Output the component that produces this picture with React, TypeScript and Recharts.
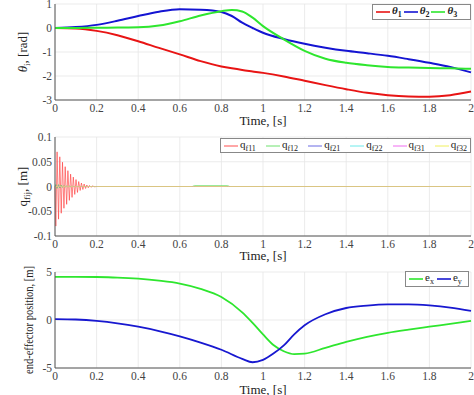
import { LineChart, Line, XAxis, YAxis, CartesianGrid, Legend, Label } from "recharts";

// panel 1: joint angles
const time = [0, 0.1, 0.2, 0.3, 0.4, 0.5, 0.6, 0.7, 0.8, 0.85, 0.9, 0.95, 1.0, 1.1, 1.2, 1.3, 1.4, 1.5, 1.6, 1.7, 1.8, 1.9, 2.0];
const theta1 = [0, -0.02, -0.12, -0.3, -0.55, -0.83, -1.1, -1.38, -1.6, -1.68, -1.75, -1.81, -1.87, -2.02, -2.2, -2.38, -2.55, -2.7, -2.8, -2.85, -2.86, -2.8, -2.65];
const theta2 = [0, 0.04, 0.13, 0.3, 0.5, 0.68, 0.78, 0.76, 0.67, 0.5, 0.22, 0.0, -0.2, -0.46, -0.66, -0.82, -0.95, -1.05, -1.16, -1.3, -1.45, -1.62, -1.85];
const theta3 = [0, 0.0, 0.01, 0.02, 0.03, 0.1, 0.28, 0.52, 0.7, 0.75, 0.69, 0.43, 0.08, -0.47, -0.95, -1.28, -1.45, -1.55, -1.62, -1.65, -1.67, -1.68, -1.7];

// panel 2: flexible coordinates
const qTime = [0, 0.004, 0.01, 0.017, 0.023, 0.03, 0.036, 0.043, 0.049, 0.056, 0.062, 0.069, 0.075, 0.082, 0.088, 0.095, 0.101, 0.108, 0.114, 0.121, 0.127, 0.134, 0.14, 0.147, 0.153, 0.16, 0.166, 0.173, 0.18, 0.19, 0.2, 0.4, 0.66, 0.67, 0.83, 0.84, 1.0, 1.5, 2.0];
const qF11 = [0, -0.08, 0.07, -0.066, 0.06, -0.054, 0.049, -0.044, 0.04, -0.036, 0.032, -0.028, 0.025, -0.022, 0.019, -0.016, 0.014, -0.012, 0.01, -0.008, 0.007, -0.006, 0.005, -0.004, 0.003, -0.0025, 0.002, -0.0015, 0.001, -0.0005, 0, 0, 0, 0, 0, 0, 0, 0, 0];
const qF12 = [0, 0.004, -0.004, 0.004, -0.003, 0.003, -0.002, 0.002, -0.0015, 0.0015, -0.001, 0.001, -0.0005, 0.0005, 0, 0, 0, 0, 0, 0, 0, 0, 0, 0, 0, 0, 0, 0, 0, 0, 0, 0, 0, 0.002, 0.002, 0, 0, 0, 0];
const qF21 = [0, 0.001, -0.001, 0.001, -0.001, 0, 0, 0, 0, 0, 0, 0, 0, 0, 0, 0, 0, 0, 0, 0, 0, 0, 0, 0, 0, 0, 0, 0, 0, 0, 0, 0, 0, 0, 0, 0, 0, 0, 0];
const qF22 = qTime.map(() => 0);
const qF31 = qTime.map(() => 0);
const qF32 = qTime.map(() => 0);

// panel 3: end-effector position
const eTime = [0, 0.1, 0.2, 0.3, 0.4, 0.5, 0.6, 0.7, 0.8, 0.9, 0.95, 1.0, 1.05, 1.1, 1.15, 1.2, 1.3, 1.4, 1.5, 1.6, 1.7, 1.8, 1.9, 2.0];
const ex = [4.5, 4.5, 4.48, 4.42, 4.3, 4.1, 3.8, 3.25, 2.4, 0.8, -0.3, -1.5, -2.6, -3.25, -3.55, -3.5, -2.9, -2.28, -1.75, -1.33, -1.0, -0.7, -0.4, -0.1];
const ey = [0.1, 0.05, -0.1, -0.35, -0.7, -1.15, -1.7, -2.35, -3.1, -4.05, -4.4, -4.15, -3.5, -2.65, -1.5, -0.55, 0.6, 1.25, 1.5, 1.62, 1.63, 1.52, 1.3, 0.95];

const timeTicks = [0, 0.2, 0.4, 0.6, 0.8, 1, 1.2, 1.4, 1.6, 1.8, 2];
const thetaTicks = [-3, -2, -1, 0, 1];
const qTicks = [-0.1, -0.05, 0, 0.05, 0.1];
const eTicks = [-5, 0, 5];

const thetaData = time.map((t, i) => ({ t, th1: theta1[i], th2: theta2[i], th3: theta3[i] }));
const qData = qTime.map((t, i) => ({ t, q11: qF11[i], q12: qF12[i], q21: qF21[i], q22: qF22[i], q31: qF31[i], q32: qF32[i] }));
const eData = eTime.map((t, i) => ({ t, ex: ex[i], ey: ey[i] }));

const FONT = "Liberation Serif, Times New Roman, serif";
const AXIS = "#555";
const timeLabelStyle = { fontSize: 13, fontFamily: FONT, fill: "#222", fontWeight: 400 };

const qSeries = [
  { key: "q11", sub: "f11", color: "#ff3b3b" },
  { key: "q12", sub: "f12", color: "#5ede5e" },
  { key: "q21", sub: "f21", color: "#5a5ae0" },
  { key: "q22", sub: "f22", color: "#5ee8e8" },
  { key: "q31", sub: "f31", color: "#ee5cee" },
  { key: "q32", sub: "f32", color: "#eeee4a" },
];

// serif tick labels drawn by hand so the font sticks
const xTick = (props: any) => (
  <text x={props.x} y={props.y} dy="0.71em" textAnchor="middle" fontFamily={FONT} fontSize={11.5} fill="#444">
    {String(props.payload.value)}
  </text>
);
const yTick = (props: any) => (
  <text x={props.x} y={props.y} dy="0.35em" textAnchor="end" fontFamily={FONT} fontSize={11.5} fill="#444">
    {String(props.payload.value)}
  </text>
);

function Swatch({ color, width = 1.6 }: { color: string; width?: number }) {
  return (
    <svg width={14} height={6} style={{ marginRight: 2 }}>
      <line x1={0} y1={3} x2={14} y2={3} stroke={color} strokeWidth={width} />
    </svg>
  );
}

const boxStyle = {
  border: "1px solid #888",
  background: "#fff",
  display: "flex",
  alignItems: "center",
  fontFamily: FONT,
  color: "#222",
  boxSizing: "border-box" as const,
  paddingLeft: 3,
};

function ThetaLegend() {
  const items = [
    { n: "1", c: "#e81414" },
    { n: "2", c: "#1414d2" },
    { n: "3", c: "#2ee62e" },
  ];
  return (
    <div style={{ ...boxStyle, height: 16, fontSize: 11 }}>
      {items.map((it) => (
        <span key={it.n} style={{ display: "flex", alignItems: "center", marginRight: 2 }}>
          <Swatch color={it.c} />
          <span style={{ fontWeight: "bold", fontStyle: "italic" }}>
            θ<sub style={{ fontSize: 8, fontStyle: "normal" }}>{it.n}</sub>
          </span>
        </span>
      ))}
    </div>
  );
}

function QLegend() {
  return (
    <div style={{ ...boxStyle, height: 15, fontSize: 11, justifyContent: "space-between", paddingRight: 3 }}>
      {qSeries.map((s) => (
        <span key={s.key} style={{ display: "flex", alignItems: "center" }}>
          <Swatch color={s.color} width={0.9} />
          <span>
            q<sub style={{ fontSize: 8 }}>{s.sub}</sub>
          </span>
        </span>
      ))}
    </div>
  );
}

function ELegend() {
  const items = [
    { n: "x", c: "#2ee62e" },
    { n: "y", c: "#1818d0" },
  ];
  return (
    <div style={{ ...boxStyle, height: 16, fontSize: 11 }}>
      {items.map((it) => (
        <span key={it.n} style={{ display: "flex", alignItems: "center", marginRight: 3 }}>
          <Swatch color={it.c} />
          <span>
            e<sub style={{ fontSize: 8 }}>{it.n}</sub>
          </span>
        </span>
      ))}
    </div>
  );
}

function yTitle(kind: "theta" | "q" | "e") {
  return (props: any) => {
    const vb = props.viewBox || { x: 0, y: 0, width: 55, height: 100 };
    const cx = kind === "e" ? 30 : 24;
    const cy = vb.y + vb.height / 2;
    let body;
    if (kind === "theta") {
      body = (
        <>
          <tspan fontStyle="italic">θ</tspan>
          <tspan fontSize={9} dy={4}>i</tspan>
          <tspan dy={-4}>, [rad]</tspan>
        </>
      );
    } else if (kind === "q") {
      body = (
        <>
          <tspan>q</tspan>
          <tspan fontSize={9} dy={4}>fij</tspan>
          <tspan dy={-4}>, [m]</tspan>
        </>
      );
    } else {
      body = <tspan>end-effector position, [m]</tspan>;
    }
    return (
      <text
        x={cx}
        y={cy}
        transform={`rotate(-90, ${cx}, ${cy})`}
        textAnchor="middle"
        dominantBaseline="middle"
        fontFamily={FONT}
        fontSize={kind === "e" ? 12 : 13}
        fill="#222"
        {...(kind === "e" ? { textLength: 108, lengthAdjust: "spacingAndGlyphs" } : {})}
      >
        {body}
      </text>
    );
  };
}

export default function App() {
  return (
    <div style={{ position: "absolute", left: 0, top: 0, width: 474, height: 395, background: "#fff", fontFamily: FONT }}>
      <style>{`.recharts-text, .recharts-label, svg text { font-family: "Liberation Serif", "Times New Roman", serif !important; font-weight: 400; } .recharts-surface { overflow: visible; }`}</style>
      <div style={{ position: "absolute", left: 0, top: 0 }}>
        <LineChart width={474} height={126} data={thetaData} margin={{ top: 4, right: 3, left: 0, bottom: 0 }}>
          <CartesianGrid stroke="#e6e6e6" strokeWidth={0.8} />
          <XAxis dataKey="t" type="number" domain={[0, 2]} ticks={timeTicks} tick={xTick} tickSize={0} tickMargin={4} height={26} stroke={AXIS} interval={0}>
            <Label value="Time, [s]" position="insideBottom" offset={1} style={timeLabelStyle} />
          </XAxis>
          <XAxis xAxisId="top" orientation="top" type="number" domain={[0, 2]} tick={false} height={0} stroke={AXIS} />
          <YAxis type="number" domain={[-3, 1]} ticks={thetaTicks} tick={yTick} tickSize={0} tickMargin={3} width={55} stroke={AXIS} interval={0} label={<Label content={yTitle("theta")} />} />
          <YAxis yAxisId="right" orientation="right" type="number" domain={[-3, 1]} tick={false} width={0} stroke={AXIS} />
          <Legend layout="horizontal" verticalAlign="middle" align="center" wrapperStyle={{ top: 4, left: 372, width: 99, height: 16 }} content={() => <ThetaLegend />} />
          <Line type="monotone" dataKey="th1" stroke="#e81414" strokeWidth={2} dot={false} isAnimationActive={false} />
          <Line type="monotone" dataKey="th2" stroke="#1414d2" strokeWidth={2} dot={false} isAnimationActive={false} />
          <Line type="monotone" dataKey="th3" stroke="#2ee62e" strokeWidth={2} dot={false} isAnimationActive={false} />
        </LineChart>
      </div>

      <div style={{ position: "absolute", left: 0, top: 130 }}>
        <LineChart width={474} height={130} data={qData} margin={{ top: 7, right: 3, left: 0, bottom: 0 }}>
          <CartesianGrid stroke="#e6e6e6" strokeWidth={0.8} />
          <XAxis dataKey="t" type="number" domain={[0, 2]} ticks={timeTicks} tick={xTick} tickSize={0} tickMargin={4} height={24} stroke={AXIS} interval={0}>
            <Label value="Time, [s]" position="insideBottom" offset={0} style={timeLabelStyle} />
          </XAxis>
          <XAxis xAxisId="top" orientation="top" type="number" domain={[0, 2]} tick={false} height={0} stroke={AXIS} />
          <YAxis type="number" domain={[-0.1, 0.1]} ticks={qTicks} tick={yTick} tickSize={0} tickMargin={3} width={55} stroke={AXIS} interval={0} label={<Label content={yTitle("q")} />} />
          <YAxis yAxisId="right" orientation="right" type="number" domain={[-0.1, 0.1]} tick={false} width={0} stroke={AXIS} />
          <Legend layout="horizontal" verticalAlign="middle" align="center" wrapperStyle={{ top: 8, left: 220, width: 251, height: 15 }} content={() => <QLegend />} />
          {qSeries.map((s) => (
            <Line key={s.key} type="linear" dataKey={s.key} stroke={s.color} strokeWidth={0.9} strokeOpacity={0.7} dot={false} isAnimationActive={false} />
          ))}
        </LineChart>
      </div>

      <div style={{ position: "absolute", left: 0, top: 265 }}>
        <LineChart width={474} height={130} data={eData} margin={{ top: 7, right: 3, left: 0, bottom: 0 }}>
          <CartesianGrid stroke="#e6e6e6" strokeWidth={0.8} />
          <XAxis dataKey="t" type="number" domain={[0, 2]} ticks={timeTicks} tick={xTick} tickSize={0} tickMargin={4} height={27} stroke={AXIS} interval={0}>
            <Label value="Time, [s]" position="insideBottom" offset={1} style={timeLabelStyle} />
          </XAxis>
          <XAxis xAxisId="top" orientation="top" type="number" domain={[0, 2]} tick={false} height={0} stroke={AXIS} />
          <YAxis type="number" domain={[-5, 5]} ticks={eTicks} tick={yTick} tickSize={0} tickMargin={3} width={55} stroke={AXIS} interval={0} label={<Label content={yTitle("e")} />} />
          <YAxis yAxisId="right" orientation="right" type="number" domain={[-5, 5]} tick={false} width={0} stroke={AXIS} />
          <Legend layout="horizontal" verticalAlign="middle" align="center" wrapperStyle={{ top: 6, left: 405, width: 64, height: 16 }} content={() => <ELegend />} />
          <Line type="monotone" dataKey="ex" stroke="#2ee62e" strokeWidth={1.8} dot={false} isAnimationActive={false} />
          <Line type="monotone" dataKey="ey" stroke="#1818d0" strokeWidth={1.8} dot={false} isAnimationActive={false} />
        </LineChart>
      </div>
    </div>
  );
}
